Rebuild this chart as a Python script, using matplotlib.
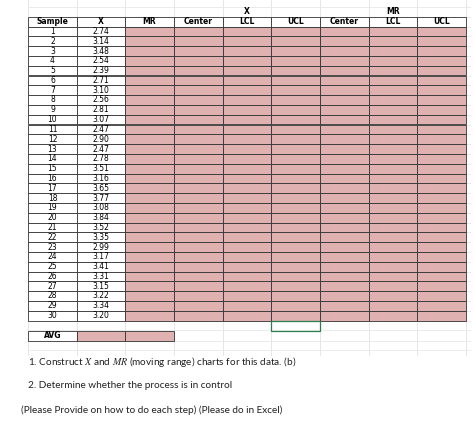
import matplotlib
matplotlib.use("Agg")
import matplotlib.pyplot as plt
from matplotlib.patches import Rectangle

samples = list(range(1, 31))
x_values = [2.74, 3.14, 3.48, 2.54, 2.39, 2.71, 3.10, 2.56, 2.81, 3.07,
            2.47, 2.90, 2.47, 2.78, 3.51, 3.16, 3.65, 3.77, 3.08, 3.84,
            3.52, 3.35, 2.99, 3.17, 3.41, 3.31, 3.15, 3.22, 3.34, 3.20]
headers = ["Sample", "X", "MR", "Center", "LCL", "UCL", "Center", "LCL", "UCL"]
group_labels = ["X", "MR"]
questions = ["1. Construct $X$ and $MR$ (moving range) charts for this data. (b)",
             "2. Determine whether the process is in control",
             "(Please Provide on how to do each step) (Please do in Excel)"]

W, H = 474, 430
fig = plt.figure(figsize=(W/100, H/100), dpi=100)
ax = fig.add_axes([0, 0, 1, 1])
ax.set_xlim(0, W); ax.set_ylim(H, 0); ax.axis("off")

cols = [28, 77, 125, 174, 223, 271, 320, 369, 417, 466]
top_band, hdr_top, row0 = 7, 16.5, 26.5
rh = (320.5 - row0) / 30
pink = "#dfb1b1"

# faint grid
for xc in cols:
    ax.plot([xc, xc], [0, 355], color="#e2e2e2", lw=0.6, zorder=0)
for i in range(32):
    y = row0 + i*rh
    ax.plot([28, 470], [y, y], color="#e8e8e8", lw=0.6, zorder=0)
for y in [hdr_top, top_band, 340.5, 350]:
    ax.plot([28, 470], [y, y], color="#e8e8e8", lw=0.6, zorder=0)

# group headers
ax.text((cols[4]+cols[5])/2, 11.5, group_labels[0], ha="center", va="center", fontsize=5.5, fontweight="bold")
ax.text((cols[7]+cols[8])/2, 11.5, group_labels[1], ha="center", va="center", fontsize=5.5, fontweight="bold")

# header row
for j, h in enumerate(headers):
    ax.add_patch(Rectangle((cols[j], hdr_top), cols[j+1]-cols[j], row0-hdr_top, fc="white", ec="#333", lw=0.6))
    ax.text((cols[j]+cols[j+1])/2, (hdr_top+row0)/2, h, ha="center", va="center", fontsize=5.5, fontweight="bold")

for i, (s, v) in enumerate(zip(samples, x_values)):
    y = row0 + i*rh
    for j in range(9):
        fc = "white" if j < 2 else pink
        ax.add_patch(Rectangle((cols[j], y), cols[j+1]-cols[j], rh, fc=fc, ec="#333", lw=0.6))
    ax.text((cols[0]+cols[1])/2, y+rh/2, str(s), ha="center", va="center", fontsize=5.5)
    ax.text((cols[1]+cols[2])/2, y+rh/2, f"{v:.2f}", ha="center", va="center", fontsize=5.5)

# selected cell
ax.add_patch(Rectangle((cols[5], 320.5), cols[6]-cols[5], 10, fc="none", ec="#2e7d4f", lw=0.9))

# AVG row
ax.add_patch(Rectangle((cols[0], 330.5), cols[1]-cols[0], 10, fc="white", ec="#333", lw=0.6))
ax.text((cols[0]+cols[1])/2, 335.5, "AVG", ha="center", va="center", fontsize=5.5, fontweight="bold")
for j in (1, 2):
    ax.add_patch(Rectangle((cols[j], 330.5), cols[j+1]-cols[j], 10, fc=pink, ec="#333", lw=0.6))

for y, q in zip([362, 386, 410], questions):
    ax.text(28 if not q.startswith("(") else 21, y, q, ha="left", va="center", fontsize=7.2, color="#222",
            family="Lato", math_fontfamily="stix")

fig.savefig("out.png", dpi=100)
